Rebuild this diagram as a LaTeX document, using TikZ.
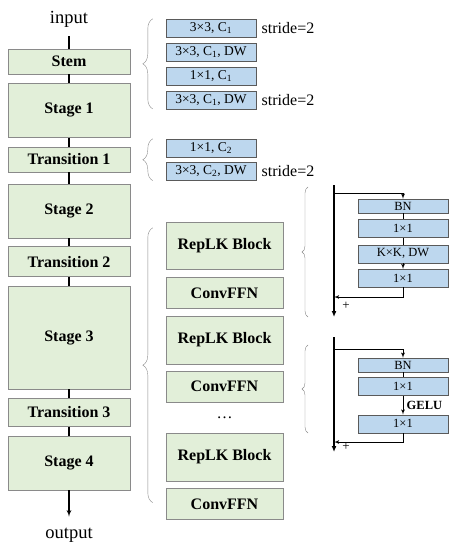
\documentclass[tikz,border=0pt]{standalone}
\usepackage{fontspec}
\setmainfont{Liberation Serif}
\usetikzlibrary{positioning}
\usetikzlibrary{shapes, arrows, arrows.meta, decorations.pathreplacing}
\definecolor{stagegreen}{HTML}{E2EFD9}
\definecolor{convblue}{HTML}{BDD7EE}
\definecolor{boxgray}{HTML}{8A8A8A}
\definecolor{convedge}{HTML}{5A5A5A}
\definecolor{bracegray}{HTML}{8A8A8A}

\begin{document}
\begin{tikzpicture}[x=1pt, y=-1pt, node distance=9pt, auto]
    \tikzstyle{stagebox} = [rectangle, draw=boxgray, fill=stagegreen, 
    minimum width=122pt, inner sep=0pt, font=\fontsize{16}{18}\selectfont\bfseries]
    \tikzstyle{block} = [stagebox, minimum width=117pt]
    \tikzstyle{convbox} = [rectangle, draw=convedge, fill=convblue, 
    minimum width=90pt, minimum height=18pt, inner sep=0pt, 
    font=\fontsize{13.5}{15}\selectfont]
    \tikzstyle{layerbox} = [convbox, font=\fontsize{12.5}{14}\selectfont]
    \tikzstyle{note} = [font=\fontsize{16}{18}\selectfont]
    \tikzstyle{io} = [font=\fontsize{18.5}{20}\selectfont]
    \tikzstyle{trunk} = [draw, line width=1.2pt]
    \tikzstyle{residual} = [draw, line width=1.8pt, 
    -{Latex[length=6pt, width=5pt]}]
    \tikzstyle{link} = [draw, line width=0.8pt]
    \tikzstyle{line} = [draw, line width=0.8pt, -latex']
    \tikzstyle{group} = [draw=bracegray, decorate, 
    decoration={brace, amplitude=10pt}]
    \useasboundingbox (0,0) rectangle (474,551);
    % backbone
    \node [io, inner ysep=9pt] (input) at (69,19) {input};
    \node [stagebox, minimum height=25pt] (stem) at (69,61.5) {Stem};
    \node [stagebox, minimum height=54pt, below=of stem] (stage1) {Stage 1};
    \node [stagebox, minimum height=25pt, below=of stage1] (trans1) 
    {Transition 1};
    \node [stagebox, minimum height=54pt, below=12pt of trans1] (stage2) 
    {Stage 2};
    \node [stagebox, minimum height=30pt, below=8pt of stage2] (trans2) 
    {Transition 2};
    \node [stagebox, minimum height=103pt, below=of trans2] (stage3) {Stage 3};
    \node [stagebox, minimum height=28pt, below=of stage3] (trans3) 
    {Transition 3};
    \node [stagebox, minimum height=54pt, below=of trans3] (stage4) {Stage 4};
    \node [io, inner ysep=11pt] (output) at (69,535) {output};
    \path [trunk] (input) -- (stem);
    \path [trunk] (stem) -- (stage1);
    \path [trunk] (stage1) -- (trans1);
    \path [trunk] (trans1) -- (stage2);
    \path [trunk] (stage2) -- (trans2);
    \path [trunk] (trans2) -- (stage3);
    \path [trunk] (stage3) -- (trans3);
    \path [trunk] (trans3) -- (stage4);
    \path [trunk, -latex'] (stage4) -- (output);
    % stem and transition convs
    \node [convbox] (stemconv1) at (211,28) {3×3, C\textsubscript{1}};
    \node [convbox, below=5.5pt of stemconv1] (stemconv2) 
    {3×3, C\textsubscript{1}, DW};
    \node [convbox, below=5.5pt of stemconv2] (stemconv3) 
    {1×1, C\textsubscript{1}};
    \node [convbox, below=5.5pt of stemconv3] (stemconv4) 
    {3×3, C\textsubscript{1}, DW};
    \node [convbox] (transconv1) at (211,148) {1×1, C\textsubscript{2}};
    \node [convbox, below=5pt of transconv1] (transconv2) 
    {3×3, C\textsubscript{2}, DW};
    \node [note, right=2pt of stemconv1] (stride1) {stride=2};
    \node [note, right=2pt of stemconv4] (stride2) {stride=2};
    \node [note, right=2pt of transconv2] (stride3) {stride=2};
    \draw [group] ([xshift=-13pt]stemconv4.south west) -- 
    ([xshift=-13pt]stemconv1.north west);
    \draw [group] ([xshift=-13pt]transconv2.south west) -- 
    ([xshift=-13pt]transconv1.north west);
    % stage blocks
    \node [block, minimum height=47pt] (replk1) at (224.5,245.5) {RepLK Block};
    \node [block, minimum height=31pt, below=8pt of replk1] (ffn1) {ConvFFN};
    \node [block, minimum height=48pt, below=7pt of ffn1] (replk2) 
    {RepLK Block};
    \node [block, minimum height=31pt, below=7pt of replk2] (ffn2) {ConvFFN};
    \node [note] (dots) at (224.5,418) {\dots};
    \node [block, minimum height=48pt] (replk3) at (224.5,457) {RepLK Block};
    \node [block, minimum height=31pt, below=7pt of replk3] (ffn3) {ConvFFN};
    \draw [group] ([xshift=-13pt, yshift=17pt]ffn3.south west) -- 
    ([xshift=-13pt, yshift=-6pt]replk1.north west);
    % RepLK block detail
    \coordinate (res1top) at (334,185);
    \coordinate (res1fork) at (334,193);
    \coordinate (res1join) at (334,297);
    \coordinate (res1end) at (334,317);
    \node [layerbox, minimum height=14pt] (bn1) at (403,206) {BN};
    \node [layerbox, below=6pt of bn1] (pw1) {1×1};
    \node [layerbox, below=7pt of pw1] (dw1) {K×K, DW};
    \node [layerbox, below=6pt of dw1] (pw2) {1×1};
    \path [residual] (res1top) -- (res1end);
    \path [line] (res1fork) -| (bn1);
    \path [link] (bn1) -- (pw1);
    \path [link] (pw1) -- (dw1);
    \path [line] (dw1) -- (pw2);
    \path [line] (pw2) |- (res1join);
    \node [font=\fontsize{13}{14}\selectfont] (plus1) at (346,306) {+};
    \draw [group, decoration={brace, amplitude=6pt}] (308,317) -- (308,187);
    % ConvFFN detail
    \coordinate (res2top) at (334,337);
    \coordinate (res2fork) at (334,349);
    \coordinate (res2join) at (334,442);
    \coordinate (res2end) at (334,452);
    \node [layerbox, minimum height=14pt] (bn2) at (403,365) {BN};
    \node [layerbox, below=5pt of bn2] (fc1) {1×1};
    \node [layerbox, below=19pt of fc1] (fc2) {1×1};
    \path [residual] (res2top) -- (res2end);
    \path [line] (res2fork) -| (bn2);
    \path [link] (bn2) -- (fc1);
    \path [line] (fc1) -- node [right, font=\fontsize{12.5}{14}\selectfont\bfseries] 
    {GELU} (fc2);
    \path [line] (fc2) |- (res2join);
    \node [font=\fontsize{13}{14}\selectfont] (plus2) at (346,447) {+};
    \draw [group, decoration={brace, amplitude=6pt}] (308,433) -- (308,345);
\end{tikzpicture}
\end{document}
